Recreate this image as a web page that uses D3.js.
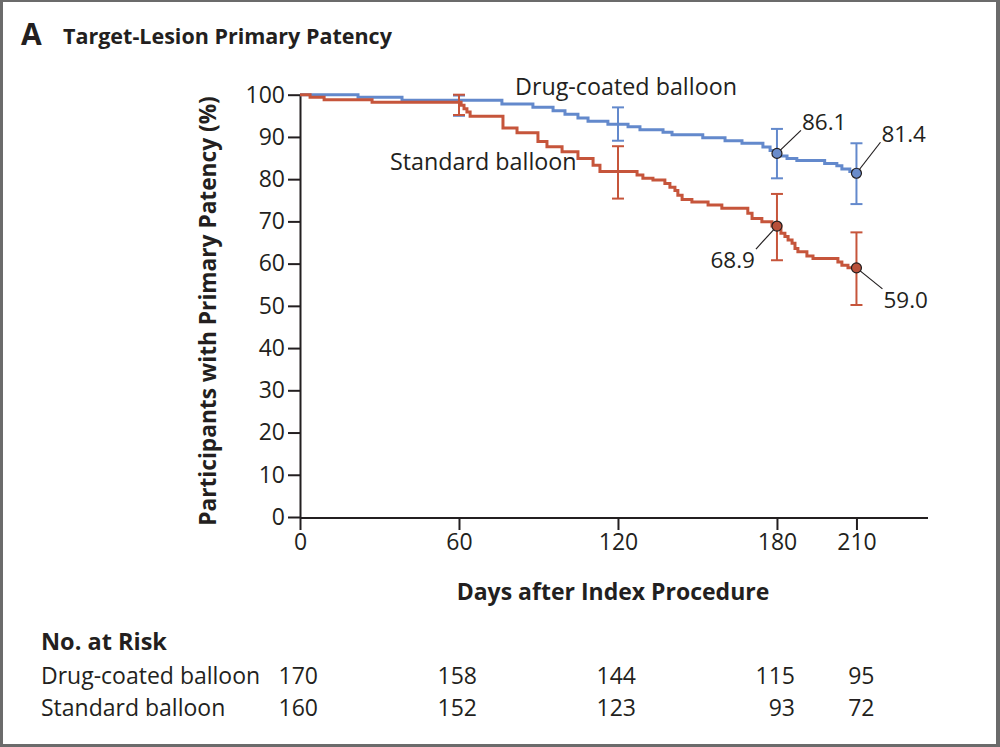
<!DOCTYPE html>
<html>
<head>
<meta charset="utf-8">
<script src="https://cdn.jsdelivr.net/npm/d3@7.9.0/dist/d3.min.js"></script>
<style>
  body { margin: 0; background: #fff; }
  svg text { font-family: "Open Sans", Lato, sans-serif; fill: #231f20; }
</style>
</head>
<body>
<svg width="1000" height="747"></svg>
<script>
// Kaplan-Meier steps: [day, % with patency]
const dcbSteps = [[0, 100], [21.9, 99.4], [38.5, 98.7], [76.2, 97.8], [87.9, 97.0], [95.5, 96.2],
  [100, 95.4], [104.9, 94.5], [108.7, 93.7], [116.2, 93.0], [123.8, 92.4], [128.3, 91.7],
  [137, 91.1], [140.4, 90.5], [152, 89.8], [160.4, 89.1], [166.8, 88.5], [174.7, 87.6],
  [177.4, 86.8], [179.2, 86.1], [181, 85.5], [183.8, 84.9], [187.5, 84.4], [198, 83.7],
  [202.6, 83.2], [204.5, 82.4], [207.5, 81.8], [209.4, 81.4], [210, 81.4]];
const sbSteps = [[0, 100], [3.8, 99.4], [9.1, 98.8], [27.2, 98.2], [60.8, 97.5], [61.9, 96.7],
  [63, 95.9], [64.2, 94.9], [76.6, 92.1], [81.9, 91.0], [89.8, 88.9], [93.2, 87.7],
  [98.9, 86.5], [104.9, 84.9], [110.6, 83.3], [113.2, 81.8], [127.2, 81.0], [129.4, 80.2],
  [133.2, 79.8], [137.7, 79.0], [139.6, 78.1], [141.5, 77.3], [142.6, 76.2], [144.2, 75.2],
  [147.9, 74.6], [154, 73.9], [159.2, 73.1], [169, 71.9], [170.6, 70.7], [174.3, 69.9],
  [178.1, 68.9], [181.5, 67.2], [183, 66.4], [184.2, 65.6], [185.7, 64.8], [186.8, 63.6],
  [187.9, 62.8], [191.3, 61.8], [193.6, 61.2], [203, 60.4], [204.5, 59.6], [206.8, 59.0],
  [210, 59.0]];

// 95% CI bars
const ciDays = [60, 120, 180, 210];
const dcbLow = [95.0, 89.1, 80.2, 74.1];
const dcbHigh = [99.8, 97.0, 91.9, 88.5];
const sbLow = [95.2, 75.4, 60.8, 50.2];
const sbHigh = [100, 87.8, 76.5, 67.4];

// labelled estimates
const markDays = [180, 210];
const dcbMarks = [86.1, 81.4];
const sbMarks = [68.9, 59.0];

// no. at risk
const riskDays = [0, 60, 120, 180, 210];
const dcbRisk = [170, 158, 144, 115, 95];
const sbRisk = [160, 152, 123, 93, 72];

const xTicks = [0, 60, 120, 180, 210];
const yTicks = d3.range(0, 101, 10);

const blue = '#6389cc';
const red = '#c6553b';

const svg = d3.select('svg');

// grey frame
svg.append('rect').attr('width', 1000).attr('height', 747).attr('fill', '#6b6b6b');
svg.append('rect').attr('x', 3).attr('y', 2).attr('width', 993).attr('height', 742).attr('fill', '#fff');

let x = d3.scaleLinear().domain([0, 237]).range([300, 928]);
let y = d3.scaleLinear().domain([0, 100]).range([517, 94.7]);

// axes
let xAxis = svg.append('g').attr('transform', 'translate(0,518)')
  .call(d3.axisBottom(x).tickValues(xTicks).tickSize(12).tickPadding(4).tickSizeOuter(0));
let yAxis = svg.append('g').attr('transform', 'translate(300,0)')
  .call(d3.axisLeft(y).tickValues(yTicks).tickSize(12).tickPadding(3).tickSizeOuter(0));
[xAxis, yAxis].forEach(a => {
  a.select('.domain').attr('stroke', '#231f20').attr('stroke-width', 2);
  a.selectAll('.tick line').attr('stroke', '#231f20').attr('stroke-width', 2);
  a.selectAll('.tick text').attr('font-size', 23).attr('font-family', null).attr('fill', '#231f20');
});
xAxis.select('.domain').attr('d', `M${x(0)},0H${x(237)}`);

let line = d3.line().x(d => x(d[0])).y(d => y(d[1])).curve(d3.curveStepAfter);

function drawSeries(steps, low, high, color) {
  let g = svg.append('g');
  g.append('path').attr('d', line(steps)).attr('fill', 'none')
    .attr('stroke', color).attr('stroke-width', 3);
  ciDays.forEach((d, i) => {
    g.append('line').attr('x1', x(d)).attr('x2', x(d)).attr('y1', y(low[i])).attr('y2', y(high[i]))
      .attr('stroke', color).attr('stroke-width', 2);
    [low[i], high[i]].forEach(v => {
      g.append('line').attr('x1', x(d) - 6).attr('x2', x(d) + 6).attr('y1', y(v)).attr('y2', y(v))
        .attr('stroke', color).attr('stroke-width', 2);
    });
  });
}
drawSeries(dcbSteps, dcbLow, dcbHigh, blue);
drawSeries(sbSteps, sbLow, sbHigh, red);

// points with leader lines; offsets are [dx, dy] of the leader end
function drawMarks(vals, color, offs, anchors) {
  vals.forEach((v, i) => {
    let px = x(markDays[i]), py = y(v);
    svg.append('line').attr('x1', px).attr('y1', py)
      .attr('x2', px + offs[i][0]).attr('y2', py + offs[i][1])
      .attr('stroke', '#231f20').attr('stroke-width', 1.2);
    svg.append('circle').attr('cx', px).attr('cy', py).attr('r', 5)
      .attr('fill', color).attr('stroke', '#231f20').attr('stroke-width', 1.2);
    svg.append('text').attr('x', px + offs[i][0] + (anchors[i] == 'end' ? -1 : 1))
      .attr('y', py + offs[i][1] + (offs[i][1] < 0 ? 0 : 19))
      .attr('text-anchor', anchors[i]).attr('font-size', 22.5).text(v.toFixed(1));
  });
}
drawMarks(dcbMarks, '#6a8ccb', [[24, -23], [24, -31]], ['start', 'start']);
drawMarks(sbMarks, '#b9503a', [[-21, 23], [26, 21]], ['end', 'start']);

// series labels
svg.append('text').attr('x', 515).attr('y', 95).attr('font-size', 23.3).text('Drug-coated balloon');
svg.append('text').attr('x', 390).attr('y', 170).attr('font-size', 23.3).text('Standard balloon');

// titles
svg.append('text').attr('x', 21).attr('y', 45).attr('font-size', 30).attr('font-weight', 'bold').text('A');
svg.append('text').attr('x', 63).attr('y', 44).attr('font-size', 21.5).attr('font-weight', 'bold')
  .text('Target-Lesion Primary Patency');
svg.append('text').attr('transform', 'translate(216,311) rotate(-90)').attr('text-anchor', 'middle')
  .attr('font-size', 22.7).attr('font-weight', 'bold').text('Participants with Primary Patency (%)');
svg.append('text').attr('x', 613).attr('y', 600).attr('text-anchor', 'middle')
  .attr('font-size', 23).attr('font-weight', 'bold').text('Days after Index Procedure');

// risk table
svg.append('text').attr('x', 41).attr('y', 650).attr('font-size', 23.5).attr('font-weight', 'bold').text('No. at Risk');
[['Drug-coated balloon', dcbRisk, 684], ['Standard balloon', sbRisk, 716]].forEach(([name, vals, yy]) => {
  svg.append('text').attr('x', 41).attr('y', yy).attr('font-size', 23).text(name);
  vals.forEach((v, i) => {
    svg.append('text').attr('x', x(riskDays[i]) + 18).attr('y', yy).attr('text-anchor', 'end')
      .attr('font-size', 23).text(v);
  });
});
</script>
</body>
</html>
